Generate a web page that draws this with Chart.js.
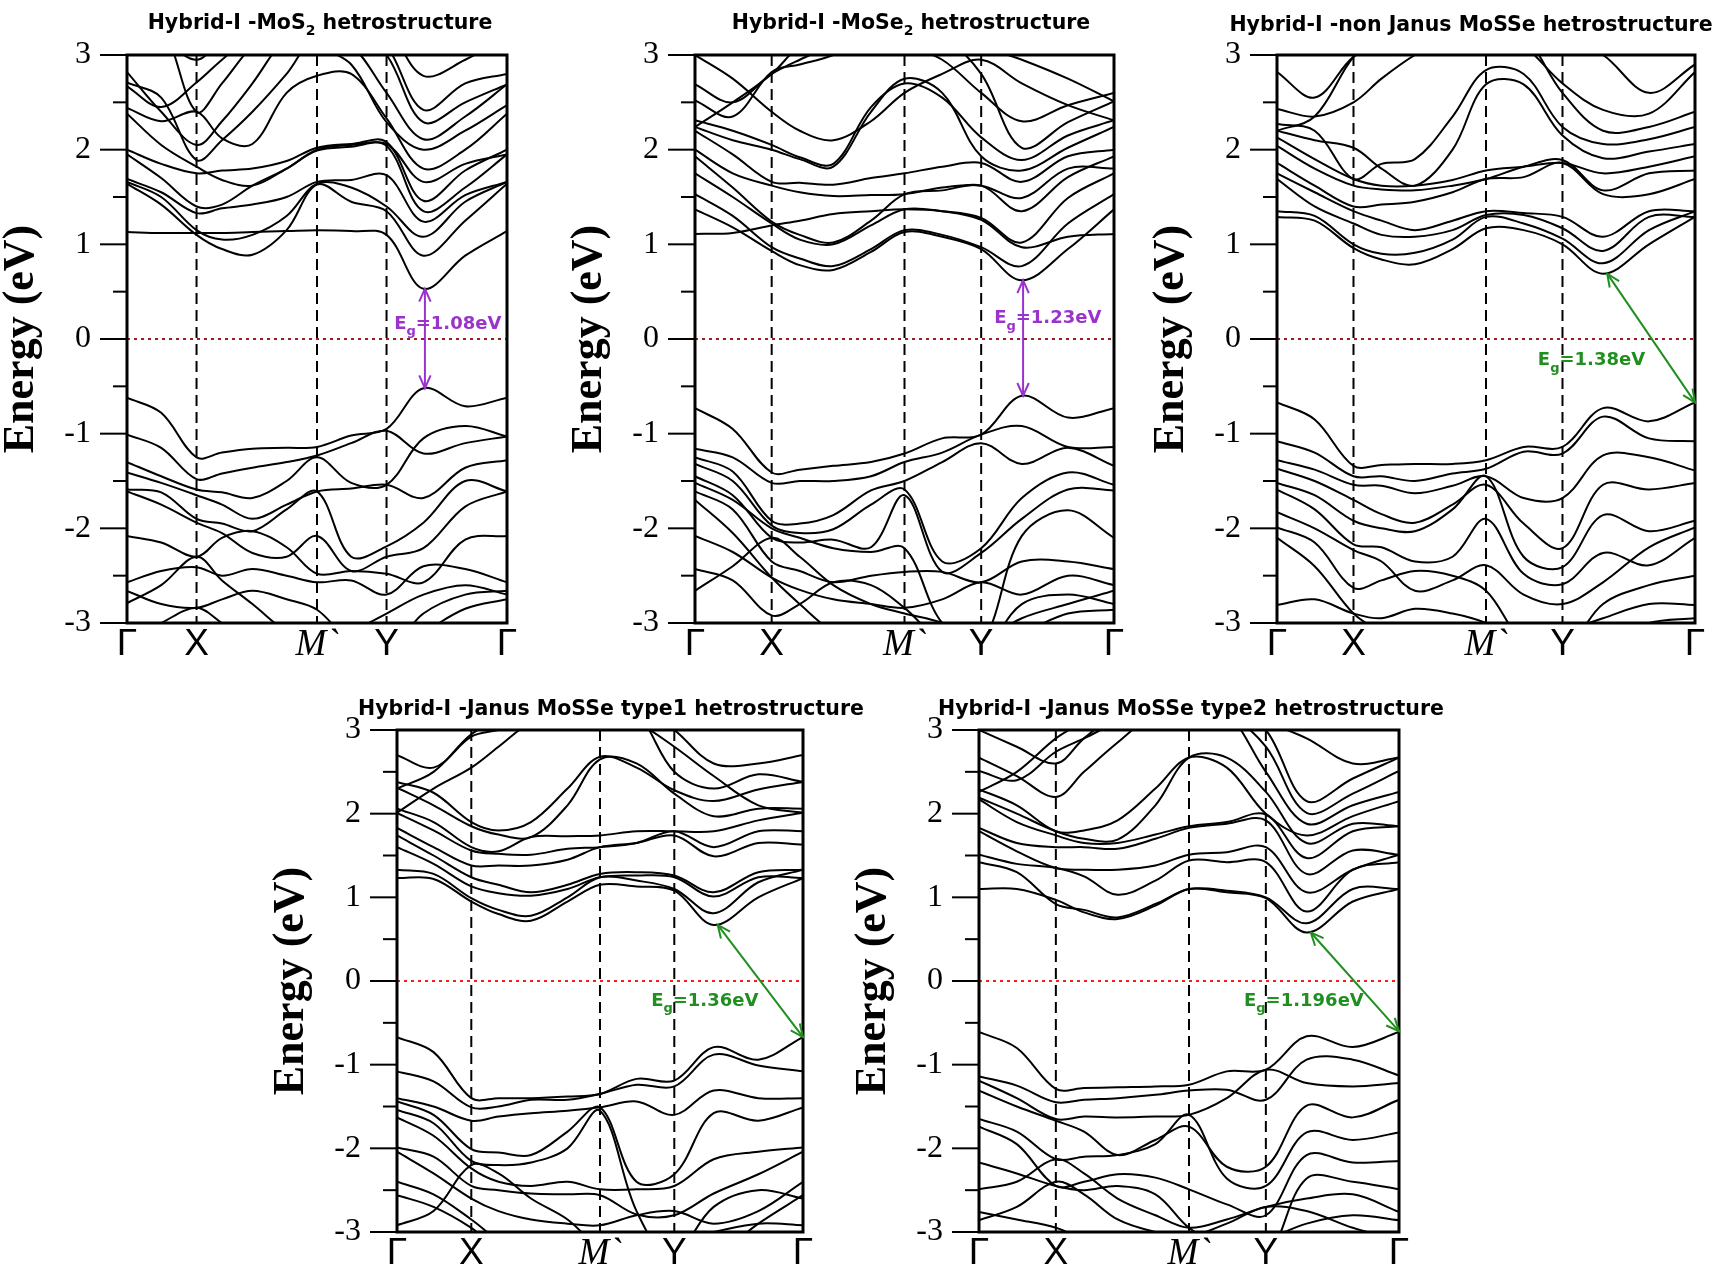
<!DOCTYPE html>
<html>
<head>
<meta charset="utf-8">
<script src="https://cdn.jsdelivr.net/npm/chart.js@4.4.1/dist/chart.umd.min.js"></script>
<style>
  html, body { margin: 0; padding: 0; background: #fff; }
  #wrap { position: relative; width: 1716px; height: 1274px; overflow: hidden; }
  #wrap canvas { position: absolute; left: 0; top: 0; }
</style>
</head>
<body>
<div id="wrap"></div>
<script>
// k-path sample positions (fraction of path) and high-symmetry points
const kPath = [0, 0.09, 0.183, 0.25, 0.33, 0.42, 0.5, 0.59, 0.683, 0.78, 0.89, 1];
const symPoints = [0, 0.183, 0.5, 0.683, 1];
const symLabels = ['Γ', 'X', 'M`', 'Y', 'Γ'];

const panelTitles = [
  'Hybrid-I -MoS₂ hetrostructure',
  'Hybrid-I -MoSe₂ hetrostructure',
  'Hybrid-I -non Janus MoSSe hetrostructure',
  'Hybrid-I -Janus MoSSe type1 hetrostructure',
  'Hybrid-I -Janus MoSSe type2 hetrostructure'
];
const gapLabels = ['1.08eV', '1.23eV', '1.38eV', '1.36eV', '1.196eV'];

// energies (eV) of each band at the kPath samples
const mos2Bands = [
  [1.13, 1.12, 1.12, 1.12, 1.13, 1.14, 1.15, 1.14, 1.10, 0.53, 0.88, 1.14],
  [1.64, 1.42, 1.10, 0.95, 0.89, 1.15, 1.63, 1.45, 1.35, 0.88, 1.25, 1.64],
  [1.66, 1.50, 1.15, 1.05, 1.10, 1.30, 1.64, 1.60, 1.40, 1.08, 1.45, 1.66],
  [1.69, 1.55, 1.33, 1.38, 1.42, 1.50, 1.66, 1.68, 1.73, 1.24, 1.52, 1.66],
  [1.95, 1.70, 1.40, 1.42, 1.62, 1.80, 2.00, 2.05, 2.04, 1.35, 1.60, 1.95],
  [2.00, 1.85, 1.75, 1.78, 1.80, 1.88, 2.02, 2.06, 2.08, 1.46, 1.78, 2.00],
  [2.38, 2.05, 1.82, 1.68, 1.62, 1.80, 1.99, 2.03, 2.06, 1.66, 1.85, 1.95],
  [2.44, 2.30, 2.40, 2.12, 2.06, 2.60, 2.78, 2.80, 2.33, 1.80, 2.00, 2.38],
  [2.67, 2.45, 2.71, 2.95, 3.20, 3.30, 3.10, 2.90, 2.29, 2.00, 2.20, 2.47],
  [2.71, 2.55, 1.89, 2.10, 2.40, 2.80, 3.20, 3.10, 2.60, 2.11, 2.35, 2.69],
  [2.82, 2.40, 2.05, 2.30, 2.70, 3.20, 3.40, 3.30, 3.00, 2.29, 2.50, 2.69],
  [3.40, 3.30, 2.40, 2.70, 3.10, 3.40, 3.50, 3.40, 3.10, 2.42, 2.70, 2.80],
  [3.50, 3.20, 2.95, 3.20, 3.50, 3.50, 3.50, 3.50, 3.30, 2.78, 2.95, 3.20],
  [-0.62, -0.78, -1.25, -1.20, -1.16, -1.15, -1.14, -1.02, -0.95, -0.52, -0.71, -0.62],
  [-1.01, -1.15, -1.48, -1.42, -1.36, -1.30, -1.23, -1.10, -0.97, -1.21, -1.10, -1.03],
  [-1.30, -1.45, -1.59, -1.62, -1.68, -1.50, -1.25, -1.52, -1.54, -1.05, -0.92, -1.03],
  [-1.41, -1.52, -1.65, -1.75, -1.90, -1.75, -1.61, -1.58, -1.54, -1.68, -1.36, -1.28],
  [-1.59, -1.62, -1.90, -1.95, -2.03, -1.80, -1.61, -2.30, -2.19, -1.94, -1.50, -1.61],
  [-1.61, -1.75, -1.94, -2.05, -2.26, -2.30, -2.08, -2.45, -2.30, -2.21, -1.77, -1.61],
  [-2.08, -2.15, -2.30, -2.10, -2.03, -2.20, -2.48, -2.45, -2.48, -2.57, -2.12, -2.08],
  [-2.57, -2.45, -2.41, -2.50, -2.43, -2.50, -2.57, -2.55, -2.70, -2.40, -2.43, -2.57],
  [-2.66, -2.80, -2.84, -2.75, -2.66, -2.75, -2.86, -3.20, -3.30, -2.90, -2.70, -2.66],
  [-2.79, -2.60, -2.30, -2.55, -2.80, -3.10, -3.30, -3.10, -2.90, -2.70, -2.60, -2.70],
  [-3.20, -3.00, -2.84, -3.00, -3.20, -3.30, -3.30, -3.30, -3.30, -3.10, -2.85, -2.75]
];

const mose2Bands = [
  [1.11, 1.12, 1.20, 1.25, 1.32, 1.35, 1.37, 1.35, 1.26, 0.97, 1.08, 1.11],
  [1.37, 1.18, 0.93, 0.78, 0.73, 0.92, 1.13, 1.08, 0.95, 0.62, 0.95, 1.37],
  [1.53, 1.30, 0.97, 0.85, 0.77, 0.95, 1.15, 1.10, 0.97, 0.77, 1.22, 1.53],
  [1.75, 1.50, 1.22, 1.05, 1.00, 1.20, 1.37, 1.35, 1.28, 1.02, 1.49, 1.75],
  [1.93, 1.60, 1.24, 1.10, 1.02, 1.25, 1.53, 1.57, 1.62, 1.35, 1.71, 1.93],
  [2.00, 1.75, 1.62, 1.55, 1.51, 1.52, 1.53, 1.60, 1.62, 1.49, 1.80, 1.80],
  [2.20, 1.95, 1.66, 1.65, 1.63, 1.70, 1.75, 1.82, 1.86, 1.66, 1.93, 2.00],
  [2.24, 2.10, 2.00, 1.90, 1.82, 2.40, 2.75, 2.60, 1.93, 1.78, 2.02, 2.24],
  [2.31, 2.20, 2.05, 1.92, 1.85, 2.45, 2.70, 2.55, 2.13, 1.89, 2.15, 2.31],
  [2.52, 2.35, 2.82, 2.90, 3.00, 3.20, 3.30, 3.20, 2.80, 2.02, 2.29, 2.51],
  [2.69, 2.50, 2.80, 2.95, 3.10, 3.20, 3.10, 2.95, 2.60, 2.30, 2.47, 2.60],
  [3.00, 2.75, 2.40, 2.20, 2.10, 2.30, 2.60, 2.80, 2.95, 2.70, 2.47, 2.31],
  [2.24, 2.50, 2.80, 3.10, 3.30, 3.40, 3.40, 3.30, 3.10, 2.95, 2.75, 2.51],
  [-0.73, -0.95, -1.41, -1.38, -1.34, -1.30, -1.21, -1.05, -1.01, -0.60, -0.83, -0.73],
  [-1.16, -1.25, -1.52, -1.50, -1.50, -1.45, -1.30, -1.20, -1.01, -0.92, -1.14, -1.14],
  [-1.25, -1.40, -1.92, -1.95, -1.86, -1.60, -1.50, -1.30, -1.10, -1.32, -1.15, -1.34],
  [-1.32, -1.50, -1.97, -2.05, -2.01, -1.75, -1.59, -2.35, -2.21, -1.68, -1.41, -1.54],
  [-1.45, -1.65, -2.10, -2.15, -2.12, -2.20, -1.65, -2.46, -2.26, -1.90, -1.59, -1.60],
  [-1.52, -1.70, -2.00, -2.10, -2.21, -2.25, -2.21, -3.00, -3.20, -2.08, -1.81, -2.10],
  [-1.61, -1.80, -2.35, -2.45, -2.57, -2.50, -2.46, -2.46, -2.57, -2.35, -2.35, -2.43],
  [-2.08, -2.25, -2.52, -2.65, -2.75, -2.80, -2.84, -2.75, -2.57, -2.70, -2.50, -2.60],
  [-2.43, -2.55, -2.92, -2.80, -2.57, -2.60, -2.84, -3.20, -3.30, -2.80, -2.70, -2.80],
  [-2.66, -2.40, -2.10, -2.30, -2.60, -2.80, -2.90, -3.00, -3.20, -3.10, -2.90, -2.86],
  [-1.70, -2.05, -2.52, -2.80, -3.10, -3.30, -3.40, -3.40, -3.20, -2.95, -2.80, -2.66]
];

const nonJanusBands = [
  [1.29, 1.25, 0.96, 0.84, 0.79, 0.95, 1.17, 1.15, 1.00, 0.69, 1.00, 1.29],
  [1.35, 1.30, 1.00, 0.90, 0.91, 1.05, 1.29, 1.22, 1.06, 0.80, 1.15, 1.35],
  [1.69, 1.40, 1.22, 1.10, 1.08, 1.15, 1.31, 1.31, 1.17, 0.93, 1.29, 1.29],
  [1.75, 1.55, 1.35, 1.25, 1.15, 1.25, 1.35, 1.33, 1.29, 1.08, 1.35, 1.35],
  [1.86, 1.62, 1.40, 1.42, 1.45, 1.55, 1.69, 1.71, 1.86, 1.53, 1.53, 1.69],
  [2.04, 1.80, 1.62, 1.58, 1.57, 1.62, 1.69, 1.82, 1.89, 1.57, 1.75, 1.78],
  [2.13, 1.90, 1.69, 1.62, 1.62, 1.68, 1.78, 1.82, 1.86, 1.75, 1.82, 1.93],
  [2.20, 2.10, 2.02, 1.80, 1.62, 2.00, 2.69, 2.69, 2.15, 1.91, 1.98, 2.06],
  [2.27, 2.20, 1.69, 1.85, 1.90, 2.35, 2.84, 2.80, 2.24, 2.06, 2.11, 2.24],
  [2.43, 2.35, 2.50, 2.75, 3.00, 3.20, 3.30, 3.20, 2.60, 2.20, 2.24, 2.40],
  [2.82, 2.55, 2.98, 3.10, 3.20, 3.30, 3.30, 3.10, 2.70, 2.42, 2.38, 2.82],
  [2.20, 2.35, 2.98, 3.20, 3.40, 3.40, 3.40, 3.40, 3.20, 3.00, 2.60, 2.90],
  [-0.67, -0.85, -1.34, -1.33, -1.32, -1.32, -1.28, -1.14, -1.14, -0.73, -0.87, -0.67],
  [-1.08, -1.20, -1.45, -1.45, -1.50, -1.42, -1.37, -1.19, -1.21, -0.82, -1.05, -1.08],
  [-1.28, -1.38, -1.54, -1.55, -1.63, -1.55, -1.45, -1.68, -1.68, -1.23, -1.25, -1.39],
  [-1.37, -1.50, -1.70, -1.85, -1.94, -1.75, -1.54, -1.95, -2.21, -1.54, -1.59, -1.52],
  [-1.52, -1.65, -1.92, -2.00, -2.03, -1.80, -1.45, -2.30, -2.41, -1.86, -2.03, -1.92],
  [-1.59, -1.80, -2.17, -2.20, -2.35, -2.30, -1.90, -2.48, -2.59, -2.26, -2.39, -2.10],
  [-1.83, -2.00, -2.23, -2.35, -2.66, -2.55, -2.39, -2.70, -2.80, -2.57, -2.20, -1.99],
  [-1.99, -2.15, -2.63, -2.55, -2.45, -2.50, -2.66, -3.20, -3.30, -2.80, -2.60, -2.50],
  [-2.10, -2.40, -2.90, -3.10, -3.30, -3.30, -3.30, -3.30, -3.10, -2.95, -2.80, -2.81],
  [-2.81, -2.75, -2.90, -2.95, -2.85, -2.90, -3.00, -3.20, -3.30, -3.20, -3.00, -2.95]
];

const janus1Bands = [
  [1.23, 1.22, 0.95, 0.80, 0.72, 0.95, 1.15, 1.13, 1.08, 0.67, 1.00, 1.23],
  [1.33, 1.28, 0.99, 0.85, 0.78, 1.00, 1.24, 1.20, 1.10, 0.81, 1.18, 1.33],
  [1.60, 1.40, 1.13, 1.05, 1.02, 1.10, 1.24, 1.26, 1.24, 1.01, 1.24, 1.23],
  [1.74, 1.50, 1.24, 1.15, 1.06, 1.15, 1.28, 1.30, 1.26, 1.06, 1.30, 1.33],
  [1.83, 1.60, 1.38, 1.38, 1.38, 1.45, 1.60, 1.65, 1.74, 1.49, 1.65, 1.63],
  [2.01, 1.80, 1.56, 1.52, 1.51, 1.58, 1.60, 1.65, 1.79, 1.60, 1.79, 1.79],
  [2.06, 1.90, 1.60, 1.55, 1.72, 1.73, 1.74, 1.79, 1.79, 1.79, 1.92, 2.01],
  [2.31, 2.10, 1.85, 1.75, 1.72, 2.10, 2.65, 2.60, 2.24, 1.97, 2.06, 2.06],
  [2.38, 2.25, 1.90, 1.80, 1.90, 2.30, 2.68, 2.55, 2.28, 2.15, 2.29, 2.38],
  [2.70, 2.55, 2.92, 3.00, 3.10, 3.20, 3.30, 3.20, 2.50, 2.30, 2.47, 2.38],
  [2.30, 2.50, 2.95, 3.10, 3.20, 3.40, 3.40, 3.30, 3.00, 2.60, 2.60, 2.70],
  [2.01, 2.30, 2.55, 2.80, 3.10, 3.30, 3.30, 3.10, 2.80, 2.45, 2.10, 2.01],
  [-0.67, -0.85, -1.40, -1.40, -1.40, -1.38, -1.35, -1.17, -1.19, -0.79, -0.94, -0.67],
  [-1.08, -1.20, -1.51, -1.50, -1.42, -1.42, -1.35, -1.24, -1.26, -0.88, -1.01, -1.08],
  [-1.40, -1.50, -1.67, -1.62, -1.58, -1.55, -1.51, -1.44, -1.60, -1.31, -1.40, -1.40],
  [-1.44, -1.60, -2.01, -2.05, -2.08, -1.80, -1.51, -2.40, -2.31, -1.58, -1.67, -1.51],
  [-1.54, -1.70, -2.15, -2.20, -2.17, -2.00, -1.55, -2.75, -3.40, -3.30, -2.90, -2.56],
  [-1.63, -1.85, -2.24, -2.40, -2.45, -2.40, -2.49, -2.49, -2.45, -2.13, -2.04, -1.99],
  [-1.99, -2.10, -2.45, -2.50, -2.54, -2.55, -2.56, -2.79, -2.80, -2.54, -2.31, -2.04],
  [-2.04, -2.30, -2.60, -2.75, -2.85, -2.90, -2.92, -2.80, -2.75, -2.90, -2.75, -2.40],
  [-2.40, -2.55, -2.85, -3.10, -3.30, -3.30, -3.30, -3.30, -3.10, -3.00, -2.90, -2.92],
  [-2.56, -2.70, -2.95, -3.20, -3.30, -3.30, -3.30, -3.30, -3.30, -3.20, -3.10, -3.00],
  [-2.92, -2.75, -2.20, -2.30, -2.60, -2.85, -3.20, -3.40, -3.30, -2.70, -2.50, -2.60]
];

const janus2Bands = [
  [1.10, 1.10, 0.97, 0.82, 0.74, 0.90, 1.10, 1.06, 0.99, 0.58, 0.95, 1.10],
  [1.42, 1.30, 0.92, 0.85, 0.76, 0.92, 1.10, 1.08, 1.00, 0.69, 1.10, 1.10],
  [1.51, 1.40, 1.35, 1.25, 1.03, 1.20, 1.44, 1.42, 1.42, 0.83, 1.33, 1.42],
  [1.79, 1.55, 1.35, 1.33, 1.33, 1.38, 1.51, 1.54, 1.60, 1.06, 1.33, 1.51],
  [1.83, 1.65, 1.60, 1.60, 1.58, 1.70, 1.83, 1.88, 1.92, 1.28, 1.56, 1.51],
  [2.17, 1.90, 1.74, 1.65, 1.65, 1.75, 1.85, 1.90, 1.99, 1.47, 1.79, 1.85],
  [2.19, 2.00, 1.79, 1.70, 1.69, 2.10, 2.67, 2.67, 2.26, 1.65, 1.88, 1.85],
  [2.29, 2.10, 1.79, 1.80, 1.92, 2.30, 2.67, 2.55, 2.00, 1.74, 1.97, 2.15],
  [2.51, 2.40, 2.74, 2.90, 3.10, 3.30, 3.30, 3.20, 2.50, 1.88, 2.10, 2.26],
  [2.67, 2.45, 2.20, 2.50, 2.85, 3.20, 3.30, 3.20, 2.80, 2.01, 2.24, 2.51],
  [2.26, 2.50, 2.90, 3.10, 3.30, 3.40, 3.40, 3.30, 3.00, 2.15, 2.42, 2.67],
  [3.00, 2.80, 2.60, 2.90, 3.20, 3.40, 3.40, 3.30, 3.10, 2.90, 2.60, 2.67],
  [-0.61, -0.80, -1.29, -1.28, -1.27, -1.26, -1.24, -1.08, -1.06, -0.66, -0.79, -0.61],
  [-1.14, -1.25, -1.45, -1.42, -1.40, -1.36, -1.31, -1.30, -1.42, -0.94, -0.94, -1.13],
  [-1.19, -1.40, -1.65, -1.62, -1.63, -1.62, -1.60, -1.40, -1.06, -1.22, -1.26, -1.22],
  [-1.31, -1.50, -1.67, -1.80, -2.08, -1.90, -1.74, -2.22, -2.22, -1.49, -1.63, -1.42],
  [-1.65, -1.80, -2.13, -2.10, -2.08, -1.95, -1.60, -2.36, -2.45, -1.81, -1.90, -1.81],
  [-1.74, -1.95, -2.45, -2.40, -2.31, -2.35, -2.49, -2.67, -2.80, -2.08, -2.17, -2.15],
  [-2.17, -2.30, -2.45, -2.50, -2.45, -2.55, -2.95, -3.20, -3.30, -2.36, -2.40, -2.49],
  [-2.49, -2.40, -2.13, -2.30, -2.60, -2.80, -2.95, -2.85, -2.70, -2.60, -2.55, -2.76],
  [-2.76, -2.85, -2.95, -3.10, -3.30, -3.30, -3.30, -3.30, -3.10, -2.90, -2.80, -2.86],
  [-2.86, -2.70, -2.40, -2.55, -2.85, -3.00, -3.05, -2.90, -2.70, -2.75, -2.95, -3.10]
];

const PURPLE = '#9933cc';
const GREEN = '#1f8f1f';

const panels = [
  { bands: mos2Bands, box: [127, 55, 507, 623], titleAt: [320, 24], fermi: '#a01c1c',
    arrow: { color: PURPLE, from: [0.784, 0.53], to: [0.784, -0.52], text: [0.703, 0.16] } },
  { bands: mose2Bands, box: [695, 55, 1114, 623], titleAt: [911, 24], fermi: '#a01c1c',
    arrow: { color: PURPLE, from: [0.783, 0.62], to: [0.783, -0.60], text: [0.714, 0.22] } },
  { bands: nonJanusBands, box: [1277, 55, 1695, 623], titleAt: [1471, 26], fermi: '#a01c1c',
    arrow: { color: GREEN, from: [0.79, 0.69], to: [1.0, -0.67], text: [0.624, -0.23] } },
  { bands: janus1Bands, box: [397, 730, 803, 1232], titleAt: [611, 710], fermi: '#ff1a1a',
    arrow: { color: GREEN, from: [0.79, 0.67], to: [1.0, -0.67], text: [0.626, -0.24] } },
  { bands: janus2Bands, box: [979, 730, 1399, 1232], titleAt: [1191, 710], fermi: '#ff1a1a',
    arrow: { color: GREEN, from: [0.79, 0.58], to: [1.0, -0.60], text: [0.631, -0.24] } }
];

function arrowHead(ctx, x1, y1, x2, y2) {
  const ang = Math.atan2(y2 - y1, x2 - x1), len = 14, spread = 0.42;
  ctx.beginPath();
  ctx.moveTo(x2 - len * Math.cos(ang - spread), y2 - len * Math.sin(ang - spread));
  ctx.lineTo(x2, y2);
  ctx.lineTo(x2 - len * Math.cos(ang + spread), y2 - len * Math.sin(ang + spread));
  ctx.stroke();
}

// title text with the "₂" drawn as a lowered small 2
function drawTitle(ctx, text, cx, cy) {
  const size = 20.5;
  const parts = text.split(/(₂)/).filter(s => s);
  const big = 'bold ' + size + 'px "DejaVu Sans"';
  const small = 'bold ' + (size * 0.68) + 'px "DejaVu Sans"';
  let total = 0;
  parts.forEach(s => { ctx.font = s === '₂' ? small : big; total += ctx.measureText(s === '₂' ? '2' : s).width; });
  let x = cx - total / 2;
  ctx.textAlign = 'left';
  ctx.textBaseline = 'middle';
  parts.forEach(s => {
    if (s === '₂') {
      ctx.font = small; ctx.fillText('2', x, cy + 7); x += ctx.measureText('2').width;
    } else {
      ctx.font = big; ctx.fillText(s, x, cy); x += ctx.measureText(s).width;
    }
  });
}

function framePlugin(p, i) {
  return {
    id: 'bandFrame' + i,
    beforeDatasetsDraw(chart) {
      const { ctx, chartArea: a, scales: { x, y } } = chart;
      ctx.save();
      ctx.lineWidth = 2;
      ctx.strokeStyle = '#000';
      ctx.setLineDash([11, 6]);
      symPoints.slice(1, -1).forEach(k => {
        const px = x.getPixelForValue(k);
        ctx.beginPath(); ctx.moveTo(px, a.top); ctx.lineTo(px, a.bottom); ctx.stroke();
      });
      ctx.strokeStyle = p.fermi;
      ctx.setLineDash([3, 4]);
      const y0 = y.getPixelForValue(0);
      ctx.beginPath(); ctx.moveTo(a.left, y0); ctx.lineTo(a.right, y0); ctx.stroke();
      ctx.restore();
    },
    afterDatasetsDraw(chart) {
      const { ctx, chartArea: a, scales: { x, y } } = chart;
      ctx.save();
      // plot frame
      ctx.strokeStyle = '#000';
      ctx.lineWidth = 3;
      ctx.strokeRect(a.left, a.top, a.right - a.left, a.bottom - a.top);
      // major / minor energy ticks, drawn outside
      ctx.lineWidth = 2;
      y.ticks.forEach(t => {
        const py = y.getPixelForValue(t.value);
        const len = Number.isInteger(t.value) ? 27 : 14;
        ctx.beginPath(); ctx.moveTo(a.left - len, py); ctx.lineTo(a.left, py); ctx.stroke();
      });
      // band gap arrow
      const ar = p.arrow;
      const x1 = x.getPixelForValue(ar.from[0]), y1 = y.getPixelForValue(ar.from[1]);
      const x2 = x.getPixelForValue(ar.to[0]), y2 = y.getPixelForValue(ar.to[1]);
      ctx.strokeStyle = ar.color;
      ctx.lineWidth = 2;
      ctx.beginPath(); ctx.moveTo(x1, y1); ctx.lineTo(x2, y2); ctx.stroke();
      arrowHead(ctx, x2, y2, x1, y1);
      arrowHead(ctx, x1, y1, x2, y2);
      // gap label
      let tx = x.getPixelForValue(ar.text[0]);
      const ty = y.getPixelForValue(ar.text[1]);
      ctx.fillStyle = ar.color;
      ctx.textBaseline = 'middle';
      ctx.textAlign = 'left';
      ctx.font = 'bold 18px "DejaVu Sans"';
      ctx.fillText('E', tx, ty);
      tx += ctx.measureText('E').width;
      ctx.font = 'bold 13px "DejaVu Sans"';
      ctx.fillText('g', tx, ty + 8);
      tx += ctx.measureText('g').width;
      ctx.font = 'bold 18px "DejaVu Sans"';
      ctx.fillText('=' + gapLabels[i], tx, ty);
      // panel title
      ctx.fillStyle = '#000';
      drawTitle(ctx, panelTitles[i], p.titleAt[0], p.titleAt[1]);
      ctx.restore();
    }
  };
}

function makeChart(p, i) {
  const canvas = document.createElement('canvas');
  canvas.width = 1716;
  canvas.height = 1274;
  document.getElementById('wrap').appendChild(canvas);
  const [L, T, R, B] = p.box;
  new Chart(canvas, {
    type: 'line',
    data: {
      datasets: p.bands.map(vals => ({
        data: vals.map((e, j) => ({ x: kPath[j], y: e })),
        borderColor: '#000',
        borderWidth: 2,
        pointRadius: 0,
        tension: 0.35
      }))
    },
    options: {
      responsive: false,
      animation: false,
      devicePixelRatio: 1,
      layout: { padding: { left: L - 120, top: T, right: 1716 - R, bottom: 1274 - B - 50 } },
      plugins: { legend: { display: false }, tooltip: { enabled: false } },
      scales: {
        x: {
          type: 'linear', min: 0, max: 1,
          grid: { display: false }, border: { display: false },
          afterBuildTicks: s => { s.ticks = symPoints.map(v => ({ value: v })); },
          afterFit: s => { s.height = 50; s.paddingLeft = 0; s.paddingRight = 0; },
          ticks: {
            autoSkip: false, maxRotation: 0, padding: 0, color: '#000',
            callback: (v, j) => symLabels[j],
            font: c => c.index === 2
              ? { family: 'Liberation Serif', style: 'italic', size: 37, lineHeight: 0.75 }
              : { family: 'Liberation Sans', size: 37, lineHeight: 0.75 }
          }
        },
        y: {
          min: -3, max: 3,
          grid: { display: false }, border: { display: false },
          afterFit: s => { s.width = 120; s.paddingTop = 0; s.paddingBottom = 0; },
          ticks: {
            stepSize: 0.5, autoSkip: false, padding: 28, color: '#000',
            font: { family: 'Liberation Serif', size: 32 },
            callback: v => Number.isInteger(v) ? String(v) : ''
          },
          title: {
            display: true, text: 'Energy (eV)', color: '#000', padding: 0,
            font: { family: 'Liberation Serif', weight: 'bold', size: 44, lineHeight: 0.667 }
          }
        }
      }
    },
    plugins: [framePlugin(p, i)]
  });
}

panels.forEach(makeChart);
</script>
</body>
</html>
